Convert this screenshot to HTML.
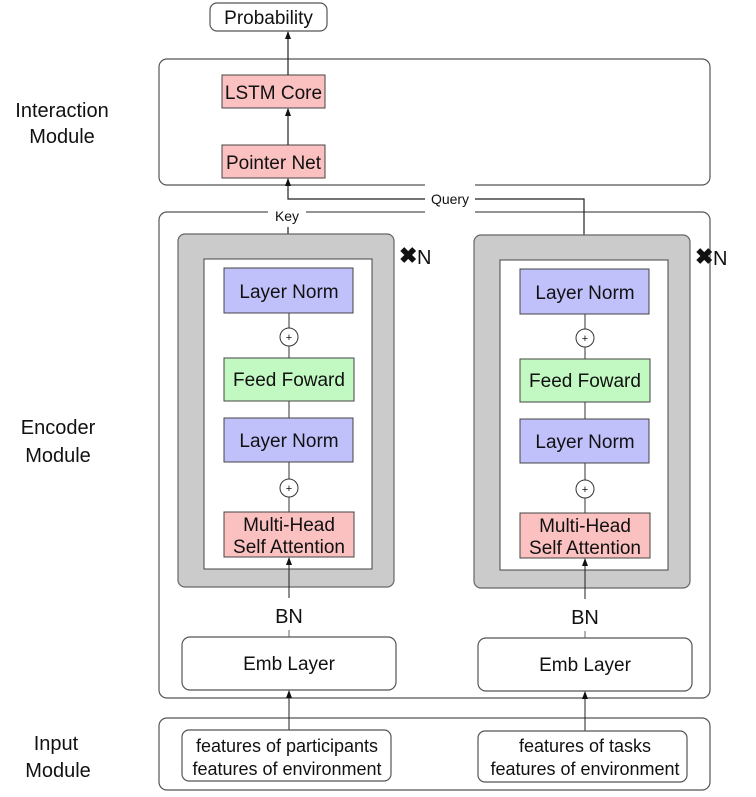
<!DOCTYPE html>
<html><head><meta charset="utf-8"><style>
html,body{margin:0;padding:0;background:#fff;width:756px;height:797px;overflow:hidden}
svg text{font-family:"Liberation Sans",Arial,sans-serif;fill:#111}
</style></head><body>
<svg width="756" height="797" viewBox="0 0 756 797" xmlns="http://www.w3.org/2000/svg">
<defs><marker id="a" markerWidth="8" markerHeight="8" refX="7" refY="4" orient="auto" markerUnits="userSpaceOnUse"><path d="M0,1 L8,4 L0,7 z" fill="#111"/></marker></defs>
<g font-size="20" text-anchor="middle">
<text x="62" y="117">Interaction</text><text x="62" y="143">Module</text>
<text x="58" y="434">Encoder</text><text x="58" y="462">Module</text>
<text x="56" y="750">Input</text><text x="58" y="777">Module</text>
</g>
<g stroke="#555" stroke-width="1.2" fill="none">
<rect x="210" y="3" width="117" height="28" rx="7" fill="#fff"/>
<path d="M425,185 H167 a8,8 0 0 1 -8,-8 V67 a8,8 0 0 1 8,-8 H702 a8,8 0 0 1 8,8 V177 a8,8 0 0 1 -8,8 H475"/>
<path d="M268,212 H167 a8,8 0 0 0 -8,8 V690 a8,8 0 0 0 8,8 H702 a8,8 0 0 0 8,-8 V220 a8,8 0 0 0 -8,-8 H475 M425,212 H306"/>
<rect x="159" y="718" width="551" height="72" rx="8"/>
</g>
<g stroke="#444" stroke-width="1">
<rect x="222" y="75" width="103" height="33" fill="#fbc1c1"/>
<rect x="222" y="145" width="103" height="33" fill="#fbc1c1"/>
</g>
<g font-size="19" text-anchor="middle">
<text x="268.5" y="24">Probability</text>
<text x="273.5" y="99">LSTM Core</text>
<text x="273.5" y="169">Pointer Net</text>
</g>
<g stroke="#222" stroke-width="1.2" fill="none">
<line x1="288" y1="75" x2="288" y2="32" marker-end="url(#a)"/>
<line x1="288" y1="145" x2="288" y2="109" marker-end="url(#a)"/>
<path d="M288,236 V227"/>
<path d="M425,199 H288 V179" marker-end="url(#a)"/>
<path d="M475,199 H584 V236"/>
</g>
<text x="450" y="204" font-size="14" text-anchor="middle">Query</text>
<text x="287" y="221" font-size="14" text-anchor="middle">Key</text>

<g id="L">
<rect x="178" y="234" width="216" height="353" rx="7" fill="#cbcbcb" stroke="#666" stroke-width="1.2"/>
<rect x="204" y="259" width="168" height="310" fill="#fff" stroke="#444" stroke-width="1"/>
<line x1="289" y1="313" x2="289" y2="512" stroke="#333"/>
<rect x="224" y="268" width="129" height="45" fill="#c0c0fb" stroke="#444"/>
<circle cx="289" cy="337" r="9" fill="#fff" stroke="#333"/>
<rect x="224" y="358" width="130" height="43" fill="#c2f9c2" stroke="#444"/>
<rect x="224" y="418" width="129" height="44" fill="#c0c0fb" stroke="#444"/>
<circle cx="289" cy="488" r="9" fill="#fff" stroke="#333"/>
<rect x="224" y="512" width="130" height="45" fill="#fbc1c1" stroke="#444"/>
<g font-size="19" text-anchor="middle">
<text x="289" y="298">Layer Norm</text>
<text x="289" y="386">Feed Foward</text>
<text x="289" y="447">Layer Norm</text>
<text x="289" y="531">Multi-Head</text>
<text x="289" y="553">Self Attention</text>
</g>
<text x="289" y="341" font-size="11" text-anchor="middle">+</text>
<text x="289" y="492" font-size="11" text-anchor="middle">+</text>
<line x1="289" y1="598" x2="289" y2="558" stroke="#222" marker-end="url(#a)"/>
<text x="289" y="623" font-size="20" text-anchor="middle">BN</text>
<line x1="289" y1="630" x2="289" y2="637" stroke="#666"/>
<rect x="182" y="637" width="214" height="53" rx="8" fill="#fff" stroke="#555" stroke-width="1.2"/>
<text x="289" y="670" font-size="19" text-anchor="middle">Emb Layer</text>
<line x1="289" y1="730" x2="289" y2="691" stroke="#222" marker-end="url(#a)"/>
<rect x="182" y="730" width="209" height="51" rx="7" fill="#fff" stroke="#555" stroke-width="1.2"/>
<text x="399" y="263" font-size="22" font-weight="bold">✖</text>
<text x="417" y="264" font-size="20">N</text>
</g>
<use href="#L" transform="translate(296,1)"/>
<g font-size="18" text-anchor="middle">
<text x="287" y="752">features of participants</text>
<text x="287" y="775">features of environment</text>
<text x="585" y="752">features of tasks</text>
<text x="585" y="775">features of environment</text>
</g>
</svg>
</body></html>
